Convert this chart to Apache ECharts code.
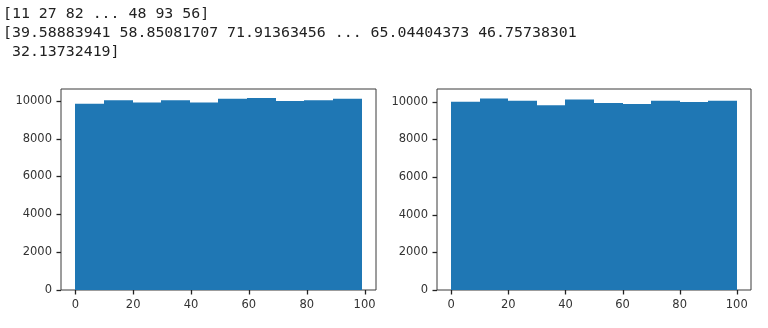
<!DOCTYPE html>
<html>
<head>
<meta charset="utf-8">
<script src="https://cdn.jsdelivr.net/npm/echarts@6/dist/echarts.min.js"></script>
<style>
  html, body { margin: 0; padding: 0; background: #fff; }
  #chart { width: 768px; height: 328px; }
</style>
</head>
<body>
<div id="chart"></div>
<script>
// printed output above the plots
const outputLines = [
  '[11 27 82 ... 48 93 56]',
  '[39.58883941 58.85081707 71.91363456 ... 65.04404373 46.75738301',
  ' 32.13732419]'
];

// left histogram: integers 0..99, 10 bins
const leftEdges = [0, 9.9, 19.8, 29.7, 39.6, 49.5, 59.4, 69.3, 79.2, 89.1, 99];
const leftCounts = [9840, 10030, 9910, 10030, 9910, 10100, 10140, 9980, 10030, 10100];

// right histogram: floats 0..100, 10 bins
const rightEdges = [0, 10, 20, 30, 40, 50, 60, 70, 80, 90, 100];
const rightCounts = [10000, 10170, 10060, 9820, 10120, 9940, 9880, 10050, 9990, 10050];

const xTicks = [0, 20, 40, 60, 80, 100];
const yTicks = [0, 2000, 4000, 6000, 8000, 10000];

// axis ranges (matplotlib-style 5% padding on x)
const leftXRange = [-4.95, 103.95];
const rightXRange = [-5, 105];

const barColor = '#1f77b4';
const lineColor = '#3a3a3a';
const tickColor = '#222';
const tickLen = 4.5;
const labelStyle = { color: '#333', fontSize: 11.5, fontFamily: 'DejaVu Sans' };

function binData(edges, counts) {
  return counts.map((c, i) => [edges[i], edges[i + 1], c]);
}

function renderBin(params, api) {
  const p0 = api.coord([api.value(0), api.value(2)]);
  const p1 = api.coord([api.value(1), 0]);
  // snap to whole pixels so neighbouring bins meet without seams
  const x0 = Math.round(p0[0]);
  const x1 = Math.round(p1[0]);
  return {
    type: 'rect',
    shape: { x: x0, y: p0[1], width: x1 - x0, height: p1[1] - p0[1] },
    style: { fill: barColor }
  };
}

// outward tick marks, placed through the axis scales
function xTickSeries(idx) {
  return {
    type: 'custom', xAxisIndex: idx, yAxisIndex: idx, silent: true, clip: false, z: 5,
    data: xTicks.map(v => [v, 0]),
    renderItem: function (params, api) {
      const p = api.coord([api.value(0), 0]);
      const x = Math.round(p[0]) + 0.5;
      return {
        type: 'line',
        shape: { x1: x, y1: p[1], x2: x, y2: p[1] + tickLen },
        style: { stroke: tickColor, lineWidth: 1.3 }
      };
    }
  };
}

function yTickSeries(idx, xmin) {
  return {
    type: 'custom', xAxisIndex: idx, yAxisIndex: idx, silent: true, clip: false, z: 5,
    data: yTicks.map(v => [xmin, v]),
    encode: { x: 0, y: 1 },
    renderItem: function (params, api) {
      const p = api.coord([api.value(0), api.value(1)]);
      const y = Math.round(p[1]) + 0.5;
      return {
        type: 'line',
        shape: { x1: p[0] - tickLen, y1: y, x2: p[0], y2: y },
        style: { stroke: tickColor, lineWidth: 1.3 }
      };
    }
  };
}

function xAxisFor(idx, range) {
  return {
    type: 'value', gridIndex: idx, min: range[0], max: range[1],
    splitLine: { show: false },
    axisLine: { show: false, onZero: false },
    axisTick: { show: false },
    axisLabel: Object.assign({ customValues: xTicks, margin: 9 }, labelStyle)
  };
}

function yAxisFor(idx, max) {
  return {
    type: 'value', gridIndex: idx, min: 0, max: max,
    splitLine: { show: false },
    axisLine: { show: false, onZero: false },
    axisTick: { show: false },
    axisLabel: Object.assign({ customValues: yTicks, margin: 9, formatter: v => String(v) }, labelStyle)
  };
}

const chart = echarts.init(document.getElementById('chart'));

const option = {
  animation: false,
  backgroundColor: '#fff',
  graphic: outputLines.map((t, i) => ({
    type: 'text',
    x: 3,
    y: 14 + i * 19.3,
    style: {
      text: t,
      fill: '#222',
      font: '14.9px "DejaVu Sans Mono"',
      verticalAlign: 'middle'
    }
  })),
  grid: [
    { left: 61, top: 89, width: 315, height: 201, show: true, borderColor: lineColor, borderWidth: 1, backgroundColor: 'transparent' },
    { left: 437, top: 89, width: 314, height: 201, show: true, borderColor: lineColor, borderWidth: 1, backgroundColor: 'transparent' }
  ],
  xAxis: [
    xAxisFor(0, leftXRange),
    xAxisFor(1, rightXRange)
  ],
  yAxis: [
    yAxisFor(0, 10618),
    yAxisFor(1, 10680)
  ],
  series: [
    { type: 'custom', xAxisIndex: 0, yAxisIndex: 0, renderItem: renderBin, data: binData(leftEdges, leftCounts), encode: { x: [0, 1], y: 2 } },
    { type: 'custom', xAxisIndex: 1, yAxisIndex: 1, renderItem: renderBin, data: binData(rightEdges, rightCounts), encode: { x: [0, 1], y: 2 } },
    xTickSeries(0),
    xTickSeries(1),
    yTickSeries(0, leftXRange[0]),
    yTickSeries(1, rightXRange[0])
  ]
};

chart.setOption(option);
</script>
</body>
</html>
